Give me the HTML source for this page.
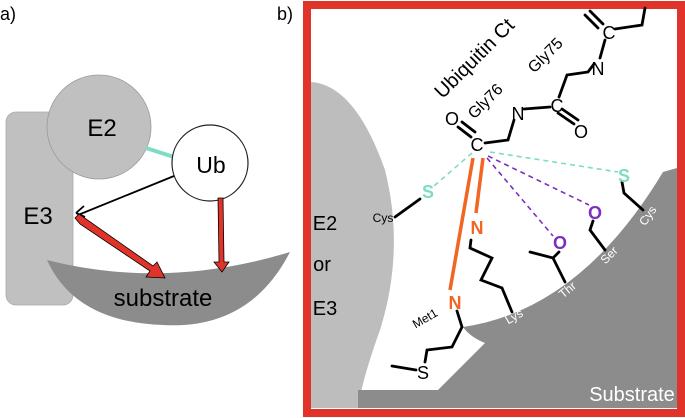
<!DOCTYPE html>
<html><head><style>
html,body{margin:0;padding:0;background:#fff;}
svg{display:block;font-family:"Liberation Sans",sans-serif;}
</style></head><body>
<svg width="685" height="418" viewBox="0 0 685 418" xmlns="http://www.w3.org/2000/svg">
<!-- panel a -->
<text x="0" y="20" font-size="18">a)</text>
<rect x="6" y="112" width="67" height="193" rx="10" fill="#c0c0c0" stroke="#aaa" stroke-width="0.8"/>
<circle cx="99" cy="127" r="52" fill="#c0c0c0" stroke="#999" stroke-width="0.8"/>
<text x="102" y="136" font-size="24" text-anchor="middle">E2</text>
<text x="38" y="224" font-size="24" text-anchor="middle">E3</text>
<line x1="146" y1="148" x2="174" y2="157" stroke="#7fdcc4" stroke-width="4"/>
<circle cx="210" cy="163" r="38" fill="#fff" stroke="#222" stroke-width="1.2"/>
<text x="211" y="173" font-size="23" text-anchor="middle">Ub</text>
<line x1="174" y1="176" x2="78" y2="215" stroke="#000" stroke-width="1.8"/>
<path d="M76,213 L84,206 M76,213 L85,217" stroke="#000" stroke-width="1.8"/>
<path d="M47,260 Q165,290 290,252 Q250,330 163,325 Q75,322 47,260 Z" fill="#8c8c8c"/>
<text x="163" y="306" font-size="24" text-anchor="middle">substrate</text>
<polygon points="75,218 80,224 150,271 146,277 165,278 157,262 153,266 79,214" fill="#e0342a" stroke="#000" stroke-width="0.8"/>
<polygon points="218,198 223,198 224,262 229,262 222,272 214,262 219,262" fill="#e0342a" stroke="#000" stroke-width="0.8"/>
<!-- panel b -->
<text x="277" y="20" font-size="18">b)</text>
<path d="M311,82 Q355,85 385,170 Q405,250 380,330 Q362,380 358,408 L311,408 Z" fill="#bdbdbd"/>
<path d="M463,327 Q580,310 663,172 L677,168 L677,408 L358,408 L358,390 L438,390 L485,343 Q470,337 463,327 Z" fill="#8c8c8c"/>
<rect x="307" y="5" width="374" height="408" fill="none" stroke="#e0342a" stroke-width="8"/>
<text x="325" y="230" font-size="20" text-anchor="middle">E2</text>
<text x="322" y="271" font-size="20" text-anchor="middle">or</text>
<text x="325" y="315" font-size="20" text-anchor="middle">E3</text>
<text x="632" y="401" font-size="20" fill="#fff" text-anchor="middle">Substrate</text>
<text transform="translate(479,63) rotate(-45)" font-size="20" text-anchor="middle">Ubiquitin Ct</text>
<text transform="translate(549,59) rotate(-45)" font-size="16" text-anchor="middle">Gly75</text>
<text transform="translate(489,105) rotate(-45)" font-size="16" text-anchor="middle">Gly76</text>
<g stroke="#000" stroke-width="2.8" fill="none" stroke-linecap="round">
<line x1="458" y1="127" x2="471" y2="137"/><line x1="462" y1="122" x2="475" y2="132"/>
<polyline points="485,143 508,140 514,120"/>
<line x1="524" y1="109" x2="550" y2="107"/>
<line x1="558" y1="113" x2="574" y2="124"/><line x1="562" y1="109" x2="578" y2="120"/>
<polyline points="559,97 567,75 588,72 594,64"/>
<line x1="600" y1="58" x2="605" y2="40"/>
<line x1="603" y1="24" x2="590" y2="11"/><line x1="598" y1="28" x2="585" y2="15"/>
<polyline points="615,29 642,25 645,8"/>
<line x1="420" y1="199" x2="395" y2="217"/>
<polyline points="622,182 624,193 643,210"/>
<polyline points="593,221 590,230 605,250"/>
<polyline points="559,252 553,258 530,252"/>
<line x1="553" y1="258" x2="565" y2="282"/>
<polyline points="471,240 470,248 492,258 481,280 502,288 512,312"/>
<polyline points="457,311 462,327 452,347 427,350 425,362"/>
<line x1="416" y1="370" x2="392" y2="366"/>
</g>
<text x="452" y="125" font-size="18" text-anchor="middle">O</text>
<text x="477" y="151" font-size="18" text-anchor="middle">C</text>
<text x="518" y="120" font-size="18" text-anchor="middle">N</text>
<text x="557" y="112" font-size="18" text-anchor="middle">C</text>
<text x="581" y="138" font-size="18" text-anchor="middle">O</text>
<text x="598" y="75" font-size="18" text-anchor="middle">N</text>
<text x="609" y="39" font-size="18" text-anchor="middle">C</text>
<text x="423" y="379" font-size="18" text-anchor="middle">S</text>
<g stroke-dasharray="5,4" stroke-width="1.6" fill="none">
<line x1="472" y1="153" x2="434" y2="186" stroke="#7fdcc4"/>
<line x1="490" y1="152" x2="618" y2="172" stroke="#7fdcc4"/>
<line x1="488" y1="156" x2="589" y2="205" stroke="#7b2fbf"/>
<line x1="487" y1="158" x2="553" y2="236" stroke="#7b2fbf"/>
</g>
<line x1="473" y1="158" x2="450" y2="290" stroke="#f26522" stroke-width="3.5"/>
<line x1="483" y1="158" x2="476" y2="213" stroke="#f26522" stroke-width="3.5"/>
<text x="428" y="198" font-size="18" fill="#7fdcc4" font-weight="bold" text-anchor="middle">S</text>
<text x="624" y="182" font-size="18" fill="#7fdcc4" font-weight="bold" text-anchor="middle">S</text>
<text x="595" y="219" font-size="18" fill="#7b2fbf" font-weight="bold" text-anchor="middle">O</text>
<text x="560" y="249" font-size="18" fill="#7b2fbf" font-weight="bold" text-anchor="middle">O</text>
<text x="477" y="234" font-size="18" fill="#f26522" font-weight="bold" text-anchor="middle">N</text>
<text x="455" y="309" font-size="18" fill="#f26522" font-weight="bold" text-anchor="middle">N</text>
<text x="383" y="222" font-size="12" text-anchor="middle">Cys</text>
<text transform="translate(427,322) rotate(-30)" font-size="12" text-anchor="middle">Met1</text>
<text transform="translate(516,320) rotate(-30)" font-size="12" fill="#fff" text-anchor="middle">Lys</text>
<text transform="translate(570,293) rotate(-40)" font-size="12" fill="#fff" text-anchor="middle">Thr</text>
<text transform="translate(612,258) rotate(-45)" font-size="12" fill="#fff" text-anchor="middle">Ser</text>
<text transform="translate(651,218) rotate(-55)" font-size="12" fill="#fff" text-anchor="middle">Cys</text>
</svg>
</body></html>
